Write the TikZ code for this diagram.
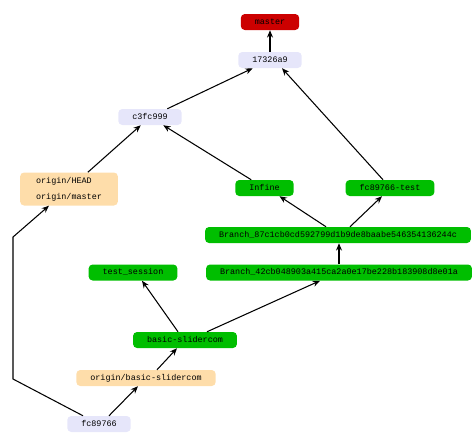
\documentclass[tikz,border=0pt]{standalone}
\usepackage{fontspec}
\setmonofont{Liberation Mono}
\usetikzlibrary{arrows.meta, positioning, calc}

\definecolor{headred}{RGB}{204,0,0}
\definecolor{commitblue}{RGB}{230,230,250}
\definecolor{remotepeach}{RGB}{254,221,170}
\definecolor{branchgreen}{RGB}{0,190,0}

\begin{document}
\begin{tikzpicture}[
    x=0.3mm, y=-0.3mm,
    every node/.style={font=\ttfamily\fontsize{7.2}{9}\selectfont},
    ref/.style={rectangle, rounded corners=1.2mm, inner xsep=4.2mm, inner ysep=0pt, minimum height=4.8mm, text height=5pt, text depth=1.5pt},
    tipbox/.style={ref, fill=headred},
    commit/.style={ref, fill=commitblue},
    remote/.style={ref, fill=remotepeach},
    branch/.style={ref, fill=branchgreen},
    arrow/.style={-{Stealth[length=2.2mm, width=1.8mm]}, line width=0.9pt}
]
\useasboundingbox (0,0) rectangle (474,433);

% ============ TOP OF HISTORY ============
\node[tipbox] (master) at (270,22) {master};
\node[commit] (c17326a9) at (270,60) {17326a9};
\node[commit] (c3fc999) at (150,117) {c3fc999};

% ============ REMOTE REFS ============
\node[rectangle, rounded corners=1.2mm, fill=remotepeach, inner xsep=4.8mm, minimum height=9.9mm, align=left,
      font=\ttfamily\fontsize{7.2}{13.6}\selectfont] (originhead) at (69,189) {origin/HEAD\\origin/master};

% ============ LOCAL BRANCHES ============
\node[branch] (infine) at (264.5,188) {Infine};
\node[branch] (fctest) at (390,188) {fc89766-test};
\node[branch] (br87) at (338,235) {Branch\_87c1cb0cd592799d1b9de8baabe546354136244c};
\node[branch] (testsession) at (133,272.5) {test\_session};
\node[branch] (br42) at (339,272.5) {Branch\_42cb048903a415ca2a0e17be228b183908d8e01a};
\node[branch] (basic) at (185,340) {basic-slidercom};
\node[remote] (originbasic) at (146,378) {origin/basic-slidercom};
\node[commit] (fc89766) at (99,424) {fc89766};

% bend points of the long edge
\coordinate (bendlow) at (13,379);
\coordinate (bendhigh) at (13,237);

% Parent links
\draw[arrow] (c17326a9) -- (master);
\draw[arrow] (c3fc999) -- (c17326a9);
\draw[arrow] ($(fctest.north)+(-7,0)$) -- ($(c17326a9.south)+(12,0)$);
\draw[arrow] (infine) -- (c3fc999);
\draw[arrow] (originhead) -- (c3fc999);
\draw[arrow] ($(br87.north)+(-12,0)$) -- ($(infine.south)+(15,0)$);
\draw[arrow] ($(br87.north)+(12,0)$) -- ($(fctest.south)+(-8,0)$);
\draw[arrow] (br42.north) -- (br42.north |- br87.south);
\draw[arrow] ($(basic.north)+(-7,0)$) -- ($(testsession.south)+(9,0)$);
\draw[arrow] ($(basic.north)+(22,0)$) -- ($(br42.south)+(-19,0)$);
\draw[arrow] ($(originbasic.north)+(11,0)$) -- ($(basic.south)+(-8,0)$);
\draw[arrow] ($(fc89766.north)+(10,0)$) -- ($(originbasic.south)+(-8,0)$);
\draw[arrow] ($(fc89766.north)+(-16,0)$) -- (bendlow) -- (bendhigh) -- ($(originhead.south)+(-20,0)$);

\end{tikzpicture}
\end{document}
